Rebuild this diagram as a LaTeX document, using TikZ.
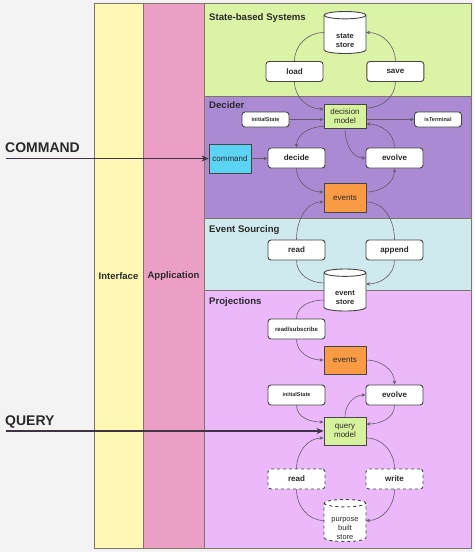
\documentclass[tikz,border=0pt]{standalone}
\usepackage{fontspec}
\setmainfont{Liberation Sans}
\usetikzlibrary{shapes.geometric,arrows.meta,positioning}

\definecolor{bgcol}{HTML}{F3F3F3}
\definecolor{ifacecol}{HTML}{FFF8B4}
\definecolor{appcol}{HTML}{EC9FC4}
\definecolor{statecol}{HTML}{DAF3A5}
\definecolor{decidercol}{HTML}{A98AD3}
\definecolor{escol}{HTML}{CFEAEE}
\definecolor{projcol}{HTML}{EBB8F9}
\definecolor{cmdcol}{HTML}{5BD3F3}
\definecolor{evcol}{HTML}{F99A45}
\definecolor{modelcol}{HTML}{D7F29D}
\definecolor{boxline}{HTML}{454545}
\definecolor{bandline}{HTML}{7E7468}
\definecolor{linkcol}{HTML}{65586E}
\definecolor{bigcol}{HTML}{3E3444}
\definecolor{textcol}{HTML}{2A2A2A}

\newcommand{\storebody}{\phantom{event}\\\phantom{store}}

\begin{document}
\begin{tikzpicture}[x=1pt, y=-1pt]
	\tikzstyle{band} = [draw=bandline, line width=0.8pt]
	\tikzstyle{title} = [anchor=base west, inner sep=0pt, text=textcol, font=\fontsize{9.6}{12}\selectfont\bfseries]
	\tikzstyle{lane} = [text=textcol, font=\fontsize{9.5}{11}\selectfont\bfseries]
	\tikzstyle{fnbox} = [rectangle, rounded corners=3pt, draw=boxline, line width=0.9pt, fill=white, minimum width=57pt, minimum height=20pt, text=textcol, font=\fontsize{8}{9}\selectfont\bfseries]
	\tikzstyle{smallbox} = [fnbox, minimum width=47pt, minimum height=15pt, font=\fontsize{5.5}{6}\selectfont\bfseries]
	\tikzstyle{model} = [rectangle, draw=boxline, line width=0.9pt, minimum width=42pt, minimum height=24pt, align=center, text=textcol, font=\fontsize{8}{9.5}\selectfont]
	\tikzstyle{store} = [cylinder, shape border rotate=90, aspect=0.28, draw=boxline, line width=0.9pt, fill=white, minimum width=42pt, minimum height=42pt, anchor=shape center, align=center, font=\fontsize{7.5}{9}\selectfont\bfseries]
	\tikzstyle{storetext} = [yshift=-5pt, align=center, text=textcol, font=\fontsize{7.5}{9}\selectfont\bfseries]
	\tikzstyle{link} = [draw=linkcol, line width=0.6pt]
	\tikzstyle{arrow} = [link, -{Stealth[length=4pt,width=3.5pt]}]
	\tikzstyle{bigarrow} = [draw=bigcol, line width=1.2pt, -{Stealth[length=7pt,width=6pt]}]

	\fill [bgcol] (0,0) rectangle (474,552);
	\filldraw [band, fill=ifacecol] (94,3) rectangle (143,548);
	\filldraw [band, fill=appcol] (143,3) rectangle (204,548);
	\filldraw [band, fill=statecol] (204,3) rectangle (471,96);
	\filldraw [band, fill=decidercol] (204,96) rectangle (471,218);
	\filldraw [band, fill=escol] (204,218) rectangle (471,290);
	\filldraw [band, fill=projcol] (204,290) rectangle (471,548);

	\node (iface) [lane] at (118.5,276) {Interface};
	\node (app) [lane] at (173.5,276) {Application};
	\node (sbtitle) [title] at (209,20) {State-based Systems};
	\node (dtitle) [title] at (209,108) {Decider};
	\node (estitle) [title] at (209,232) {Event Sourcing};
	\node (ptitle) [title] at (209,304) {Projections};

	\node (sstore) [store, label={[storetext]center:{state\\store}}] at (345,32.5) {\storebody};
	\node (load) [fnbox] at (294.5,71.5) {load};
	\node (save) [fnbox, right=43pt of load] {save};

	\node (dmodel) [model, fill=modelcol] at (345,116) {decision\\model};
	\node (initstate) [smallbox] at (265.5,119.5) {initialState};
	\node (isterm) [smallbox] at (438,119.5) {isTerminal};
	\node (command) [model, fill=cmdcol, minimum height=29pt] at (230,158.5) {command};
	\node (decide) [fnbox] at (296.5,158) {decide};
	\node (evolve) [fnbox] at (394.5,158) {evolve};
	\node (events) [model, fill=evcol, minimum height=29pt] at (345,197.5) {events};

	\node (read) [fnbox] at (296.5,250) {read};
	\node (append) [fnbox] at (394.5,250) {append};
	\node (estore) [store, label={[storetext]center:{event\\store}}] at (345,290) {\storebody};

	\node (rsub) [fnbox, font=\fontsize{6}{7}\selectfont\bfseries] at (296.5,329) {read/subscribe};
	\node (pevents) [model, fill=evcol, minimum height=28pt] at (345,360) {events};
	\node (pinit) [fnbox, font=\fontsize{5.5}{6}\selectfont\bfseries] at (296.5,395) {initialState};
	\node (pevolve) [fnbox] at (394.5,395) {evolve};
	\node (qmodel) [model, fill=modelcol, minimum height=28pt] at (345,431) {query\\model};
	\node (qread) [fnbox, dashed] at (296.5,479) {read};
	\node (write) [fnbox, dashed] at (394.5,479) {write};
	\node (pbstore) [store, dashed, label={[storetext, font=\fontsize{7.5}{9}\selectfont]center:{purpose\\built\\store}}] at (345,520.5) {\storebody};

	\node (cmdtext) [anchor=base west, inner sep=0pt, text=textcol, font=\fontsize{14}{16}\selectfont\bfseries] at (5,152) {COMMAND};
	\node (qtext) [anchor=base west, inner sep=0pt, text=textcol, font=\fontsize{14}{16}\selectfont\bfseries] at (5,425) {QUERY};
	\coordinate (cmdin) at (6,158.5);
	\coordinate (qin) at (6,431);

	\draw [bigarrow] (cmdin) -- (command.west);
	\draw [bigarrow] (qin) -- (qmodel.west);

	\draw [link] ([xshift=-21pt]sstore.shape center) to[out=180,in=90] (load.north);
	\draw [arrow] (load.south) to[out=-90,in=180] ([yshift=7pt]dmodel.west);
	\draw [link] ([yshift=8pt]dmodel.east) to[out=0,in=-90] (save.south);
	\draw [arrow] (save.north) to[out=90,in=0] ([xshift=21pt]sstore.shape center);

	\draw [arrow] (initstate.east) -- (initstate.east -| dmodel.west);
	\draw [arrow] (dmodel.east |- isterm.west) -- (isterm.west);
	\draw [arrow] (command.east) -- (command.east -| decide.west);
	\draw [arrow] ([yshift=2pt]dmodel.south west) to[out=180,in=90] (decide.north);
	\draw [arrow] (dmodel.south) to[out=-90,in=180] (evolve.west);
	\draw [arrow] (evolve.north) to[out=90,in=0] ([yshift=-8pt]dmodel.east);
	\draw [arrow] (decide.south) to[out=-90,in=180] ([yshift=5.5pt]events.west);
	\draw [arrow] ([yshift=5.5pt]events.east) to[out=0,in=-90] (evolve.south);

	\draw [link] ([xshift=-21pt,yshift=7pt]estore.shape center) to[out=180,in=-90] (read.south);
	\draw [arrow] (read.north) to[out=90,in=180] ([yshift=-4.5pt]events.west);
	\draw [link] ([yshift=-4.5pt]events.east) to[out=0,in=90] (append.north);
	\draw [arrow] (append.south) to[out=-90,in=0] ([xshift=21pt,yshift=6pt]estore.shape center);

	\draw [link] ([xshift=-21pt,yshift=-10pt]estore.shape center) to[out=180,in=90] (rsub.north);
	\draw [arrow] (rsub.south) to[out=-90,in=180] (pevents.west);
	\draw [arrow] (pevents.east) to[out=0,in=90] (pevolve.north);
	\draw [arrow] (pinit.south) to[out=-90,in=180] ([yshift=9pt]qmodel.west);
	\draw [arrow] (qmodel.north) to[out=90,in=180] (pevolve.west);
	\draw [arrow] (pevolve.south) to[out=-90,in=0] ([yshift=7pt]qmodel.east);
	\draw [link] ([xshift=-21pt]pbstore.shape center) to[out=180,in=-90] (qread.south);
	\draw [arrow] (qread.north) to[out=90,in=180] ([yshift=-7pt]qmodel.west);
	\draw [link] ([yshift=-7pt]qmodel.east) to[out=0,in=90] (write.north);
	\draw [arrow] (write.south) to[out=-90,in=0] ([xshift=21pt]pbstore.shape center);
\end{tikzpicture}
\end{document}
